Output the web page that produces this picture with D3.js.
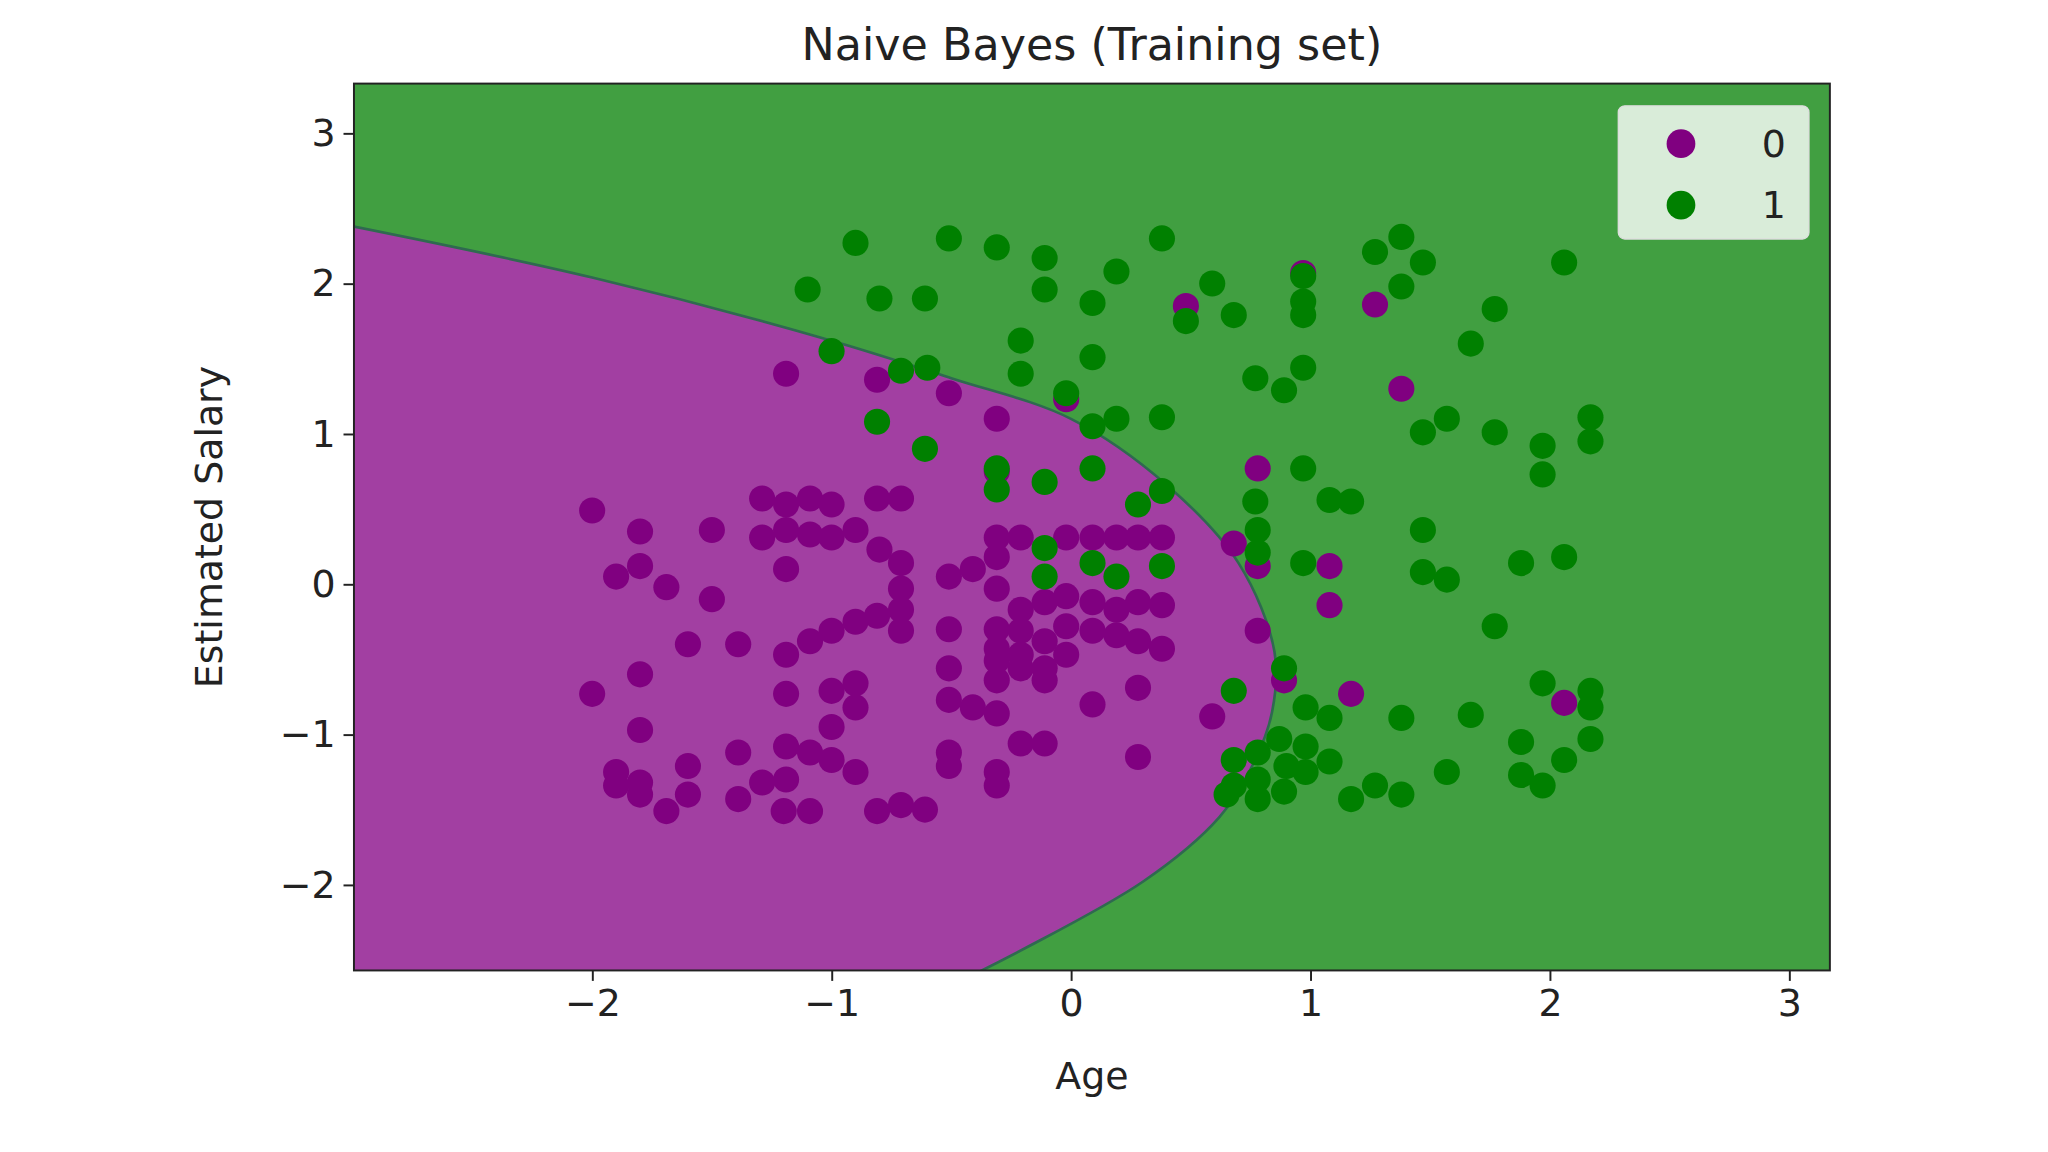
<!DOCTYPE html>
<html>
<head>
<meta charset="utf-8">
<script src="https://cdn.jsdelivr.net/npm/d3@7"></script>
<style>
  body { margin: 0; background: #fff; }
  text { font-family: "DejaVu Sans", sans-serif; fill: #222; }
</style>
</head>
<body>
<script>
// class 0 (purple) points [age, salary]
var class0 = [
  [0.48,1.85],[0.97,2.07],[1.27,1.86],[1.38,1.30],[0.78,0.77],[0.68,0.27],[0.78,0.12],[1.08,0.12],
  [1.08,-0.14],[0.78,-0.31],[1.17,-0.73],[2.06,-0.79],[0.59,-0.88],[0.89,-0.64],
  [-1.19,1.40],[-0.81,1.36],[-0.51,1.27],[-0.31,1.10],[-0.02,1.23],
  [-2.0,0.49],[-1.8,0.35],[-1.5,0.36],[-1.9,0.05],[-1.8,0.12],[-1.69,-0.02],[-1.5,-0.10],
  [-1.6,-0.40],[-1.39,-0.40],[-2.0,-0.73],[-1.8,-0.6],[-1.8,-0.97],[-1.9,-1.34],[-1.8,-1.32],
  [-1.9,-1.25],[-1.6,-1.21],[-1.6,-1.40],[-1.69,-1.51],[-1.8,-1.40],[-1.39,-1.12],[-1.39,-1.43],
  [-1.29,-1.32],[-1.2,-1.51],[-1.09,-1.51],[-1.29,0.57],[-1.29,0.31],[-1.19,0.53],[-1.09,0.57],
  [-1.0,0.53],[-1.19,0.36],[-1.09,0.33],[-1.0,0.31],[-0.90,0.36],[-0.81,0.57],[-0.71,0.57],
  [-0.80,0.23],[-0.71,0.14],[-0.71,-0.03],[-0.71,-0.17],[-0.81,-0.21],[-0.90,-0.25],[-1.0,-0.31],
  [-1.09,-0.38],[-1.19,-0.47],[-1.19,0.10],[-0.71,-0.31],[-1.19,-0.73],[-1.0,-0.71],[-0.90,-0.66],
  [-0.90,-0.82],[-1.0,-0.95],[-1.19,-1.08],[-1.09,-1.12],[-1.0,-1.17],[-0.90,-1.25],[-1.19,-1.30],
  [-0.81,-1.51],[-0.71,-1.47],[-0.61,-1.50],[-0.51,0.05],[-0.41,0.10],[-0.31,0.18],[-0.51,-0.30],
  [-0.51,-0.56],[-0.51,-0.77],[-0.41,-0.82],[-0.31,-0.86],[-0.51,-1.12],[-0.51,-1.21],[-0.31,-1.25],
  [-0.31,-1.34],[-0.21,-1.06],[-0.11,-1.06],[-0.31,-0.51],
  [-0.31,0.31],[-0.21,0.31],[-0.02,0.31],[0.09,0.31],[0.19,0.31],[0.28,0.31],[0.38,0.31],
  [-0.31,-0.03],[-0.21,-0.17],[-0.11,-0.12],[-0.02,-0.08],[0.09,-0.12],[0.19,-0.17],[0.28,-0.12],[0.38,-0.14],
  [-0.31,-0.30],[-0.21,-0.31],[-0.11,-0.38],[-0.02,-0.28],[0.09,-0.31],[0.19,-0.34],[0.28,-0.38],[0.38,-0.43],
  [-0.31,-0.43],[-0.21,-0.47],[-0.11,-0.56],[-0.02,-0.47],[0.09,-0.80],[0.28,-0.69],[0.28,-1.15],
  [-0.31,-0.64],[-0.11,-0.64],[-0.21,-0.56],[-0.31,0.75]
];
// class 1 (green) points [age, salary]
var class1 = [
  [-0.90,2.27],[-0.51,2.30],[-0.31,2.24],[-0.11,2.17],[0.38,2.30],[0.19,2.08],[-0.11,1.96],[0.09,1.87],
  [0.59,2.0],[0.68,1.79],[0.48,1.75],[0.97,2.05],[0.97,1.88],[0.97,1.79],[1.27,2.21],[1.38,2.31],
  [1.47,2.14],[1.38,1.98],[2.06,2.14],[1.77,1.83],[1.67,1.60],[-1.10,1.96],[-0.80,1.90],[-0.61,1.90],
  [-1.0,1.55],[-0.71,1.42],[-0.60,1.44],[-0.21,1.62],[-0.21,1.40],[0.09,1.51],[-0.02,1.27],[0.77,1.37],
  [0.89,1.29],[0.97,1.44],[-0.81,1.08],[-0.61,0.90],[0.09,1.05],[0.19,1.10],[0.38,1.11],[1.47,1.01],
  [1.57,1.10],[1.77,1.01],[1.97,0.92],[2.17,1.11],[2.17,0.95],[1.97,0.73],[-0.31,0.77],[-0.31,0.63],
  [-0.11,0.68],[0.09,0.77],[0.28,0.53],[0.38,0.62],[0.77,0.55],[0.97,0.77],[1.08,0.56],[1.17,0.55],
  [0.78,0.36],[1.47,0.36],[-0.11,0.24],[-0.11,0.05],[0.09,0.14],[0.19,0.05],[0.38,0.12],[0.78,0.21],
  [0.97,0.14],[1.47,0.08],[1.57,0.03],[1.88,0.14],[2.06,0.18],[1.77,-0.28],[0.89,-0.56],[0.68,-0.71],
  [1.97,-0.66],[2.17,-0.71],[2.17,-0.82],[0.98,-0.82],[1.08,-0.89],[1.38,-0.89],[1.67,-0.87],[2.17,-1.03],
  [1.88,-1.05],[2.06,-1.17],[1.88,-1.27],[1.97,-1.34],[1.57,-1.25],[1.08,-1.18],[1.27,-1.34],[1.17,-1.43],
  [1.38,-1.40],[0.68,-1.17],[0.78,-1.12],[0.87,-1.03],[0.98,-1.08],[0.68,-1.34],[0.78,-1.30],[0.89,-1.38],
  [0.78,-1.43],[0.98,-1.25],[0.90,-1.21],[0.65,-1.40]
];
// decision boundary (class 0 region edge)
var boundary = [
  [-3.0,2.38],[-2.0,2.04],[-1.0,1.62],[-0.5,1.37],[0.0,1.1],[0.4,0.66],[0.7,0.14],[0.85,-0.45],
  [0.84,-0.85],[0.76,-1.2],[0.62,-1.55],[0.3,-1.98],[-0.41,-2.6]
];
var xTicks = [-2, -1, 0, 1, 2, 3];
var yTicks = [-2, -1, 0, 1, 2, 3];
var legendLabels = ["0", "1"];
var classColors = ["#800080", "#008000"];

(function() {
var svg = d3.select("body").append("svg")
  .attr("width", 2048).attr("height", 1152)
  .attr("viewBox", "0 0 1568 880");

var pl = 271, pr = 1401, pt = 63, pb = 742;
var x = d3.scaleLinear().domain([-2.995, 3.17]).range([pl, pr]);
var y = d3.scaleLinear().domain([-2.57, 3.33]).range([pb, pt]);

svg.append("clipPath").attr("id", "clip").append("rect")
  .attr("x", pl).attr("y", pt).attr("width", pr - pl).attr("height", pb - pt);

var plot = svg.append("g").attr("clip-path", "url(#clip)");
plot.append("rect").attr("x", pl).attr("y", pt)
  .attr("width", pr - pl).attr("height", pb - pt).attr("fill", "#419f41");

var curvePath = d3.line().x(function(d) { return x(d[0]); }).y(function(d) { return y(d[1]); })
  .curve(d3.curveCatmullRom.alpha(0.5))(boundary);
plot.append("path")
  .attr("d", curvePath + "L" + x(-3.5) + "," + y(-3.0) + "L" + x(-3.5) + "," + y(2.38) + "Z")
  .attr("fill", "#a23fa2");
plot.append("path").attr("d", curvePath)
  .attr("fill", "none").attr("stroke", "#2f6a50").attr("stroke-width", 2);

[class0, class1].forEach(function(pts, i) {
  plot.selectAll(null).data(pts).enter().append("circle")
    .attr("cx", function(d) { return x(d[0]); })
    .attr("cy", function(d) { return y(d[1]); })
    .attr("r", 10).attr("fill", classColors[i]);
});

svg.append("rect").attr("x", pl).attr("y", pt)
  .attr("width", pr - pl).attr("height", pb - pt)
  .attr("fill", "none").attr("stroke", "#222").attr("stroke-width", 1.5);

var fmt = function(d) { return d < 0 ? "\u2212" + (-d) : d; };
var xa = svg.append("g").attr("transform", "translate(0," + pb + ")")
  .call(d3.axisBottom(x).tickValues(xTicks).tickSize(8).tickPadding(6).tickFormat(fmt));
var ya = svg.append("g").attr("transform", "translate(" + pl + ",0)")
  .call(d3.axisLeft(y).tickValues(yTicks).tickSize(8).tickPadding(6).tickFormat(fmt));
[xa, ya].forEach(function(a) {
  a.select(".domain").remove();
  a.selectAll("text").style("font-size", "29px").style("font-family", "DejaVu Sans").attr("fill", "#222");
  a.selectAll("line").attr("stroke", "#222").attr("stroke-width", 1.5);
});

svg.append("text").attr("x", (pl + pr) / 2).attr("y", 45)
  .attr("text-anchor", "middle").style("font-size", "34px").text("Naive Bayes (Training set)");
svg.append("text").attr("x", (pl + pr) / 2).attr("y", 833)
  .attr("text-anchor", "middle").style("font-size", "29px").text("Age");
svg.append("text").attr("transform", "translate(170," + ((pt + pb) / 2) + ") rotate(-90)")
  .attr("text-anchor", "middle").style("font-size", "29px").text("Estimated Salary");

var lg = svg.append("g");
lg.append("rect").attr("x", 1239).attr("y", 80).attr("width", 146).attr("height", 102)
  .attr("rx", 5).attr("fill", "#ffffff").attr("fill-opacity", 0.8).attr("stroke", "#ddd");
legendLabels.forEach(function(l, i) {
  lg.append("circle").attr("cx", 1287).attr("cy", 109 + i * 47).attr("r", 11).attr("fill", classColors[i]);
  lg.append("text").attr("x", 1358).attr("y", 119 + i * 47).attr("text-anchor", "middle")
    .style("font-size", "29px").text(l);
});
})();
</script>
</body>
</html>
